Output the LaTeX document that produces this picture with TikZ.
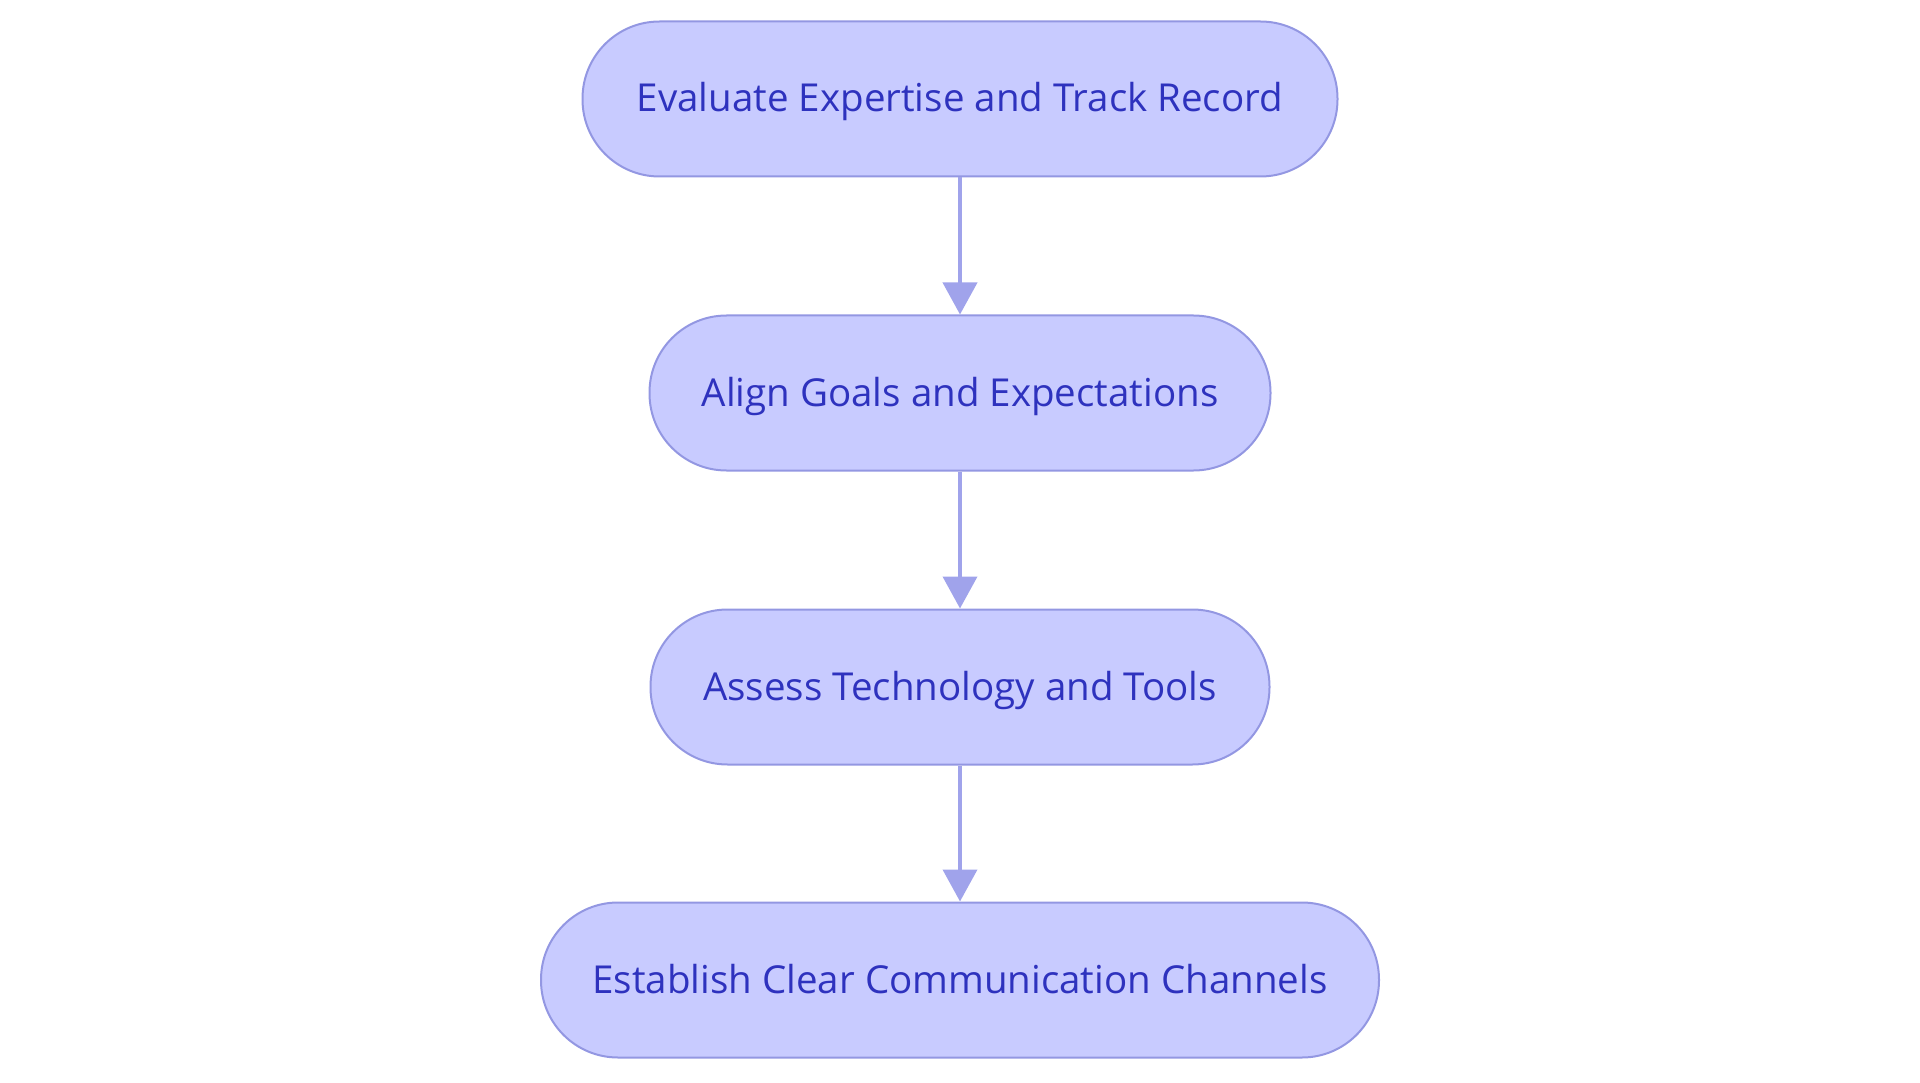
\documentclass[tikz,border=0pt]{standalone}
\usepackage{fontspec}
\setmainfont{Open Sans}
\usetikzlibrary{arrows.meta}
\definecolor{boxfill}{RGB}{200,203,255}
\definecolor{boxdraw}{RGB}{147,151,226}
\definecolor{boxtext}{RGB}{46,50,190}
\definecolor{arrowcol}{RGB}{160,163,235}
\tikzset{
  stepbox/.style={draw=boxdraw, fill=boxfill, line width=2pt, rounded corners=77pt,
    minimum height=155pt, inner sep=0pt, text=boxtext, text height=30pt, text depth=4pt,
    font=\fontsize{38.5pt}{44pt}\selectfont},
  flow/.style={draw=arrowcol, line width=4pt, -{Triangle[length=32pt,width=34pt]}}
}
\begin{document}
\begin{tikzpicture}[x=1pt,y=-1pt]
\useasboundingbox (0,0) rectangle (1920,1083);
\node[stepbox, minimum width=755pt] (a) at (960,99) {Evaluate Expertise and Track Record};
\node[stepbox, minimum width=621pt] (b) at (960,393) {Align Goals and Expectations};
\node[stepbox, minimum width=619pt] (c) at (960,687) {Assess Technology and Tools};
\node[stepbox, minimum width=838pt] (d) at (960,980) {Establish Clear Communication Channels};
\draw[flow] (a) -- (b);
\draw[flow] (b) -- (c);
\draw[flow] (c) -- (d);
\end{tikzpicture}
\end{document}
